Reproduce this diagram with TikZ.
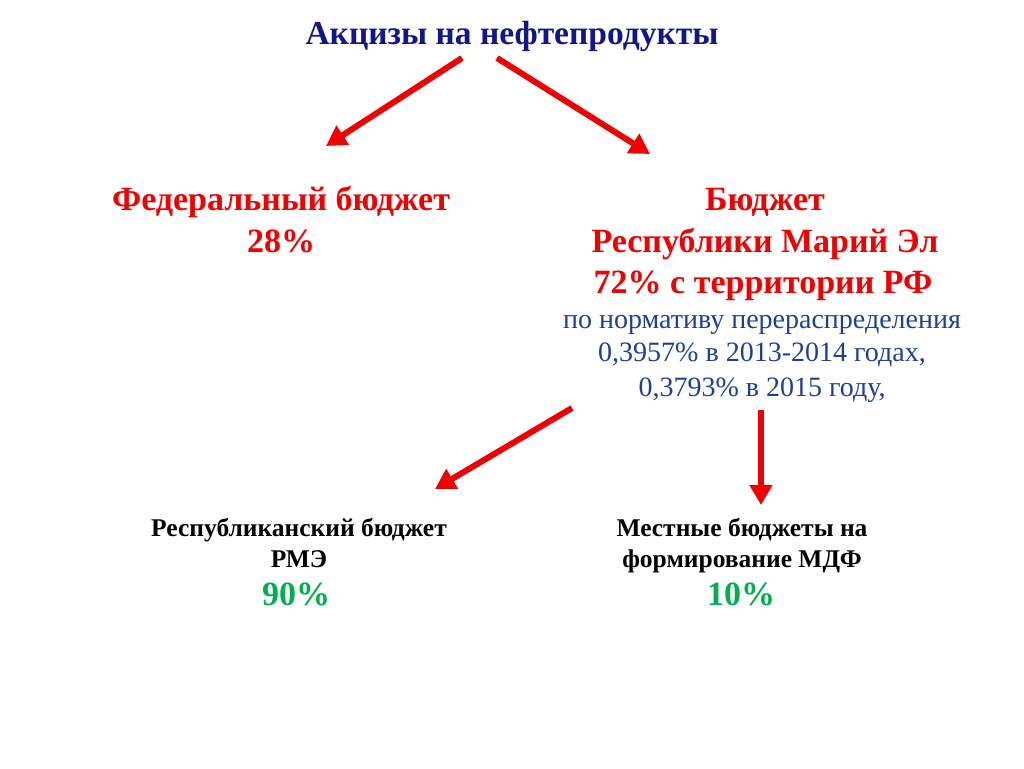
\documentclass[tikz,border=0pt]{standalone}
\usepackage{fontspec}
\setmainfont{Liberation Serif}
\usetikzlibrary{arrows.meta}
\definecolor{navy}{RGB}{20,20,140}
\definecolor{txtblue}{RGB}{31,63,150}
\definecolor{myred}{RGB}{240,0,0}
\definecolor{mygreen}{RGB}{0,176,80}
\tikzset{
  lbl/.style={inner sep=0pt, anchor=base, align=center},
  titletxt/.style={lbl, text=navy, font=\fontsize{33.5}{38}\selectfont\bfseries},
  redtxt/.style={lbl, text=myred, font=\fontsize{34}{38}\selectfont\bfseries},
  bluetxt/.style={lbl, text=txtblue, font=\fontsize{28}{32}\selectfont},
  blacktxt/.style={lbl, text=black, font=\fontsize{25.5}{29}\selectfont\bfseries},
  greentxt/.style={lbl, text=mygreen, font=\fontsize{34}{38}\selectfont\bfseries},
  redarrow/.style={draw=myred, line width=6pt, -{Triangle[length=20pt,width=22pt]}}
}
\begin{document}
\begin{tikzpicture}[x=1pt,y=-1pt]
\useasboundingbox (0,0) rectangle (1024,768);
\node[titletxt] (title) at (512,45) {Акцизы на нефтепродукты};
\coordinate (a1s) at (462,58);
\coordinate (a1e) at (326,146);
\coordinate (a2s) at (497,58);
\coordinate (a2e) at (650,154);
\draw[redarrow] (a1s) -- (a1e);
\draw[redarrow] (a2s) -- (a2e);
\node[redtxt] (fed) at (281,210) {Федеральный бюджет};
\node[redtxt] (fedp) at (281,252) {28\%};
\node[redtxt] (rb1) at (765,210) {Бюджет};
\node[redtxt] (rb2) at (765,252) {Республики Марий Эл};
\node[redtxt] (rb3) at (763,293) {72\% с территории РФ};
\node[bluetxt] (bl1) at (762,328) {по нормативу перераспределения};
\node[bluetxt] (bl2) at (762,361) {0,3957\% в 2013-2014 годах,};
\node[bluetxt] (bl3) at (762,396) {0,3793\% в 2015 году,};
\coordinate (a3s) at (572,408);
\coordinate (a3e) at (435,489);
\coordinate (a4s) at (761,410);
\coordinate (a4e) at (761,505);
\draw[redarrow] (a3s) -- (a3e);
\draw[redarrow] (a4s) -- (a4e);
\node[blacktxt] (rep1) at (299,536) {Республиканский бюджет};
\node[blacktxt] (rep2) at (299,567) {РМЭ};
\node[greentxt] (rep3) at (296,605) {90\%};
\node[blacktxt] (loc1) at (742,536) {Местные бюджеты на};
\node[blacktxt] (loc2) at (742,567) {формирование МДФ};
\node[greentxt] (loc3) at (741,605) {10\%};
\end{tikzpicture}
\end{document}
